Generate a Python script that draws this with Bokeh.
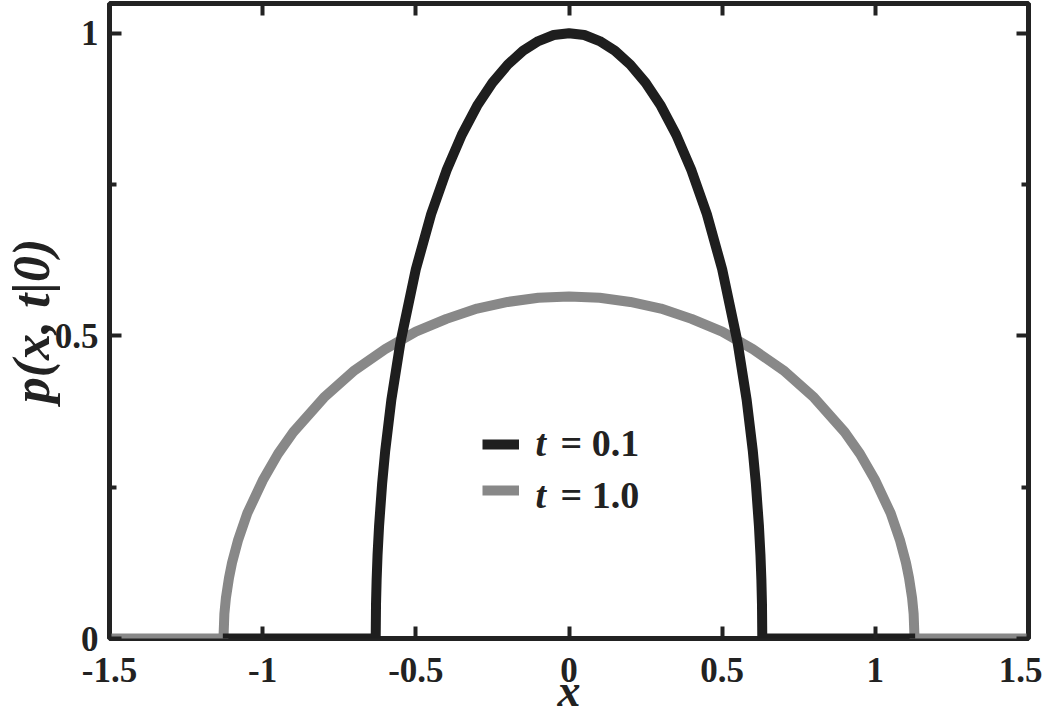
from bokeh.plotting import figure
from bokeh.models import (FixedTicker, LinearAxis, Range1d, Label, Legend, LegendItem)
from bokeh.embed import file_html
from bokeh.resources import INLINE

# ---- data ----
# t = 0.1 (black)
x_t01 = [-1.13, -0.631, -0.63, -0.628, -0.625, -0.62, -0.61, -0.60, -0.58, -0.55,
         -0.50, -0.45, -0.40, -0.35, -0.30, -0.25, -0.20, -0.15, -0.10, -0.05,
         0.0,
         0.05, 0.10, 0.15, 0.20, 0.25, 0.30, 0.35, 0.40, 0.45, 0.50,
         0.55, 0.58, 0.60, 0.61, 0.62, 0.625, 0.628, 0.63, 0.631, 1.13]
p_t01 = [0.0, 0.0, 0.056, 0.097, 0.138, 0.186, 0.256, 0.310, 0.394, 0.490,
         0.610, 0.701, 0.773, 0.832, 0.880, 0.918, 0.948, 0.971, 0.987, 0.997,
         1.0,
         0.997, 0.987, 0.971, 0.948, 0.918, 0.880, 0.832, 0.773, 0.701, 0.610,
         0.490, 0.394, 0.310, 0.256, 0.186, 0.138, 0.097, 0.056, 0.0, 0.0]

# t = 1.0 (gray)
x_t10 = [-1.5, -1.128, -1.125, -1.12, -1.11, -1.10, -1.08, -1.05, -1.00, -0.95,
         -0.90, -0.80, -0.70, -0.60, -0.50, -0.40, -0.30, -0.20, -0.10,
         0.0,
         0.10, 0.20, 0.30, 0.40, 0.50, 0.60, 0.70, 0.80, 0.90,
         0.95, 1.00, 1.05, 1.08, 1.10, 1.11, 1.12, 1.125, 1.128, 1.5]
p_t10 = [0.0, 0.0, 0.041, 0.067, 0.100, 0.125, 0.163, 0.207, 0.261, 0.305,
         0.341, 0.398, 0.443, 0.478, 0.507, 0.528, 0.545, 0.556, 0.563,
         0.565,
         0.563, 0.556, 0.545, 0.528, 0.507, 0.478, 0.443, 0.398, 0.341,
         0.305, 0.261, 0.207, 0.163, 0.125, 0.100, 0.067, 0.041, 0.0, 0.0]

x_ticks = [-1.5, -1, -0.5, 0, 0.5, 1, 1.5]
x_tick_labels = ["-1.5", "-1", "-0.5", "0", "0.5", "1", "1.5"]
y_ticks = [0, 0.5, 1]
y_tick_labels = ["0", "0.5", "1"]
y_minor_ticks = [0.25, 0.75]
series_labels = ["0.1", "1.0"]

INK = "#222222"
BLACK = "#1e1e1e"
GRAY = "#888888"
FONT = "Liberation Serif"
BASE_FIX = 14  # baseline correction for screen-unit labels

p = figure(width=1050, height=718,
           x_range=Range1d(-1.5, 1.5), y_range=Range1d(0, 1.049),
           output_backend="svg", toolbar_location=None,
           min_border_left=117, min_border_right=14,
           min_border_top=3, min_border_bottom=78)
p.styles = {"margin-left": "-8px", "margin-right": "-8px"}
p.xgrid.visible = False
p.ygrid.visible = False
p.background_fill_color = "white"
p.border_fill_color = "white"
p.outline_line_color = INK
p.outline_line_width = 5

r_gray = p.line(x_t10, p_t10, line_color=GRAY, line_width=10, line_join="round")
r_black = p.line(x_t01, p_t01, line_color=BLACK, line_width=10, line_join="round")


def style_axis(ax, ticker, labels_map, show_labels):
    ax.ticker = ticker
    ax.axis_line_color = None
    ax.major_tick_in = 12
    ax.major_tick_out = 0
    ax.minor_tick_in = 7
    ax.minor_tick_out = 0
    ax.major_tick_line_width = 4
    ax.minor_tick_line_width = 4
    ax.major_tick_line_color = INK
    ax.minor_tick_line_color = INK
    if show_labels:
        ax.major_label_overrides = labels_map
        ax.major_label_text_font = FONT
        ax.major_label_text_font_style = "bold"
        ax.major_label_text_font_size = "35px"
        ax.major_label_text_color = INK
    else:
        ax.major_label_overrides = {t: "" for t in ticker.ticks}
        ax.major_label_text_font_size = "0px"
        ax.major_label_standoff = 0
        ax.axis_label_standoff = 0


xmap = {t: s for t, s in zip(x_ticks, x_tick_labels)}
ymap = {t: s for t, s in zip(y_ticks, y_tick_labels)}

xa = p.xaxis[0]
style_axis(xa, FixedTicker(ticks=x_ticks, minor_ticks=[]), xmap, True)
xa.major_label_standoff = 19
xa.axis_label = "x"
xa.axis_label_text_font = FONT
xa.axis_label_text_font_style = "bold italic"
xa.axis_label_text_font_size = "46px"
xa.axis_label_text_color = INK
xa.axis_label_standoff = -20

ya = p.yaxis[0]
style_axis(ya, FixedTicker(ticks=y_ticks, minor_ticks=y_minor_ticks), ymap, True)
ya.major_label_standoff = 11
ya.axis_label = "p(x, t|0)"
ya.axis_label_text_font = FONT
ya.axis_label_text_font_style = "bold italic"
ya.axis_label_text_font_size = "52px"
ya.axis_label_text_color = INK
ya.axis_label_standoff = -8

top_ax = LinearAxis()
style_axis(top_ax, FixedTicker(ticks=x_ticks, minor_ticks=[]), {}, False)
p.add_layout(top_ax, "above")
right_ax = LinearAxis()
style_axis(right_ax, FixedTicker(ticks=y_ticks, minor_ticks=y_minor_ticks), {}, False)
p.add_layout(right_ax, "right")

# legend key lines
legend = Legend(items=[LegendItem(label=" ", renderers=[r_black]),
                       LegendItem(label=" ", renderers=[r_gray])],
                location=(373, 138), glyph_width=37, glyph_height=20,
                label_height=20, label_width=0, label_text_font_size="1px",
                spacing=26, padding=0, margin=0,
                border_line_alpha=0, background_fill_alpha=0)
p.add_layout(legend, "center")

# legend texts
for i, lab in enumerate(series_labels):
    base = 182 - 52 * i + BASE_FIX
    p.add_layout(Label(x=426, y=base, x_units="screen", y_units="screen", text="t",
                       text_font=FONT, text_font_style="bold italic",
                       text_font_size="38px", text_color=INK,
                       text_baseline="alphabetic"))
    p.add_layout(Label(x=451, y=base, x_units="screen", y_units="screen",
                       text="= " + lab,
                       text_font=FONT, text_font_style="bold",
                       text_font_size="38px", text_color=INK,
                       text_baseline="alphabetic"))

open("out.html", "w").write(file_html(p, INLINE))
